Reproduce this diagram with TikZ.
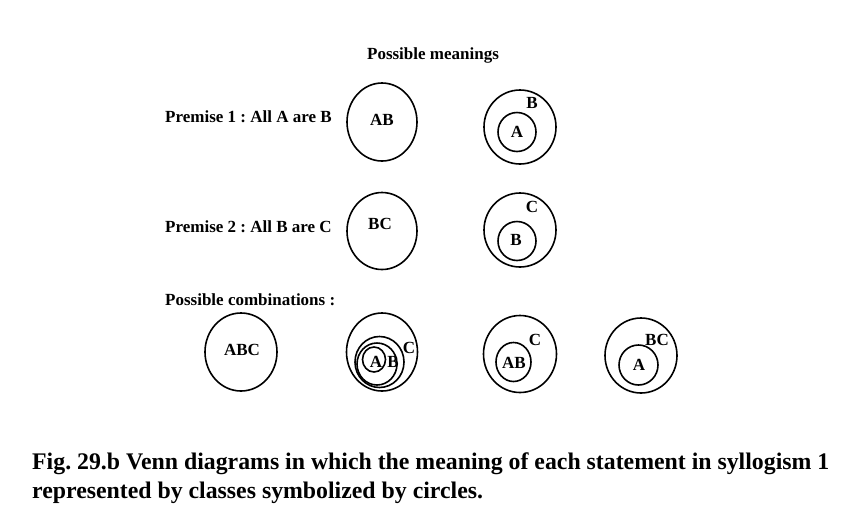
\documentclass[tikz,border=0pt]{standalone}
\usepackage{fontspec}
\setmainfont{Liberation Serif}
\usetikzlibrary{shapes.geometric}
\frenchspacing
\tikzset{
  ring/.style={draw, ellipse, line width=1.6pt, inner sep=0pt},
  lab/.style={font=\fontsize{17}{19}\selectfont\bfseries, inner sep=0pt},
  figcap/.style={font=\fontsize{23.8}{27}\selectfont\bfseries, inner sep=0pt, anchor=base west}
}
\begin{document}
\begin{tikzpicture}[x=1pt, y=-1pt]
\useasboundingbox (0,0) rectangle (851,515);
% headings
\path (433,55) node[lab](meanings){Possible meanings} (165,117) node[lab, anchor=west](premA){Premise 1 : All A are B} (165,227) node[lab, anchor=west](premB){Premise 2 : All B are C} (165,300) node[lab, anchor=west](combos){Possible combinations :};

% premise 1
\node[ring, minimum width=70pt, minimum height=78pt] (ab1) at (382,122) {};
\node[lab] at (382,120) {AB};
\node[ring, minimum width=72pt, minimum height=74pt] (b1) at (520,127) {};
\node[ring, minimum width=38pt, minimum height=39pt] (a1) at (517,132) {};
\node[lab] at (517,132) {A};
\node[lab] at (532,103) {B};

% premise 2
\node[ring, minimum width=70pt, minimum height=77pt] (bc2) at (382,231) {};
\node[lab] at (380,224) {BC};
\node[ring, minimum width=72pt, minimum height=74pt] (c2) at (520,230) {};
\node[ring, minimum width=38pt, minimum height=39pt] (b2) at (517,241) {};
\node[lab] at (516,240) {B};
\node[lab] at (532,207) {C};

% combinations
\node[ring, minimum width=72pt, minimum height=78pt] (abc) at (241,352) {};
\node[lab] at (242,350) {ABC};

\node[ring, minimum width=71pt, minimum height=78pt] (c3) at (382,352) {};
\node[ring, minimum width=49pt, minimum height=51pt] (b3) at (379.5,362) {};
\node[ring, minimum width=40pt, minimum height=42pt] (b3in) at (377,364) {};
\node[ring, minimum width=23pt, minimum height=25pt] (a3) at (374,359.5) {};
\node[lab] at (376,362) {A};
\node[lab] at (393,362) {B};
\node[lab] at (409,348) {C};

\node[ring, minimum width=73pt, minimum height=77pt] (c4) at (520,354) {};
\node[ring, minimum width=35pt, minimum height=39pt] (ab4) at (513.5,362) {};
\node[lab] at (514,363) {AB};
\node[lab] at (535,340) {C};

\node[ring, minimum width=72pt, minimum height=75pt] (bc5) at (641,355.5) {};
\node[ring, minimum width=39pt, minimum height=40pt] (a5) at (638.5,365) {};
\node[lab] at (639,365) {A};
\node[lab] at (657,340) {BC};

% caption
\node[figcap] (capA) at (32,469) {Fig. 29.b Venn diagrams in which the meaning of each statement in syllogism 1};
\node[figcap] (capB) at (32,498) {represented by classes symbolized by circles.};
\end{tikzpicture}
\end{document}
